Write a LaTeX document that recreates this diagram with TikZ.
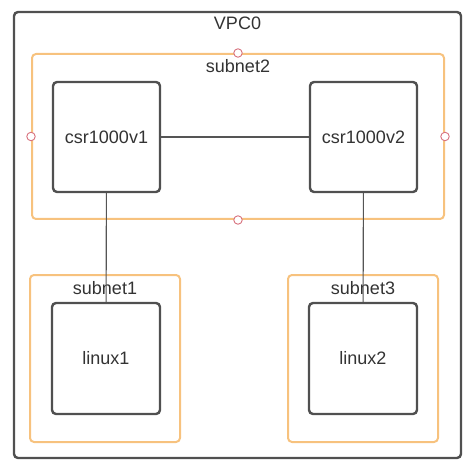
\documentclass[tikz,border=0pt]{standalone}
\usepackage{fontspec}
\setmainfont{Liberation Sans}
\usepackage{xcolor}
\usepackage{tikz}
\usetikzlibrary{positioning}
\definecolor{vpcgray}{HTML}{505050}
\definecolor{subnetorange}{HTML}{F7C27E}
\definecolor{portred}{HTML}{D8737F}
\definecolor{linkgray}{HTML}{555555}
\definecolor{txtgray}{HTML}{333333}
\newcommand{\netfont}{\fontsize{18pt}{21pt}\selectfont}
\tikzset{
  vpc/.style={rectangle, rounded corners=4pt, draw=vpcgray, line width=2.4pt,
              minimum width=447pt, minimum height=446pt},
  subnet/.style={rectangle, rounded corners=4pt, draw=subnetorange, line width=2pt},
  device/.style={rectangle, rounded corners=4pt, draw=vpcgray, line width=2.4pt, fill=white,
                 minimum width=107pt, minimum height=110pt, text=txtgray, font=\netfont},
  tag/.style={inner sep=0pt, text=txtgray, font=\netfont},
  port/.style={circle, draw=portred, fill=white, line width=0.9pt, inner sep=0pt, minimum size=8.5pt},
  link/.style={draw=linkgray, line width=1.1pt}
}

\begin{document}
\begin{tikzpicture}[x=1pt, y=-1pt]
  \useasboundingbox (0,0) rectangle (474,473);
  \node[vpc] (vpc0) at (237.5,235) {};
  \node[tag, below=6pt of vpc0.north] (vpc0lbl) {VPC0};

  \node[subnet, minimum width=412pt, minimum height=165pt] (subnet2) at (238,136.5) {};
  \node[subnet, minimum width=150pt, minimum height=167pt] (subnet1) at (105,358.5) {};
  \node[subnet, minimum width=150pt, minimum height=167pt] (subnet3) at (363,358.5) {};
  \node[tag, below=6pt of subnet2.north] (subnet2lbl) {subnet2};
  \node[tag, below=7pt of subnet1.north] (subnet1lbl) {subnet1};
  \node[tag, below=7pt of subnet3.north] (subnet3lbl) {subnet3};

  \node[device] (csr1) at (106.5,137) {csr1000v1};
  \node[device] (csr2) at (363.5,137) {csr1000v2};
  \node[device, minimum width=108pt, minimum height=111pt] (linux1) at (106,358.5) {linux1};
  \node[device, minimum width=108pt, minimum height=111pt] (linux2) at (363,358.5) {linux2};

  \draw[link] (csr1) -- (csr2);
  \draw[link] (csr1) -- (linux1);
  \draw[link] (csr2) -- (linux2);

  \node[port] (p1) at (subnet2.north) {};
  \node[port] (p2) at (subnet2.west) {};
  \node[port] (p3) at (subnet2.east) {};
  \node[port] (p4) at (subnet2.south) {};
\end{tikzpicture}
\end{document}
